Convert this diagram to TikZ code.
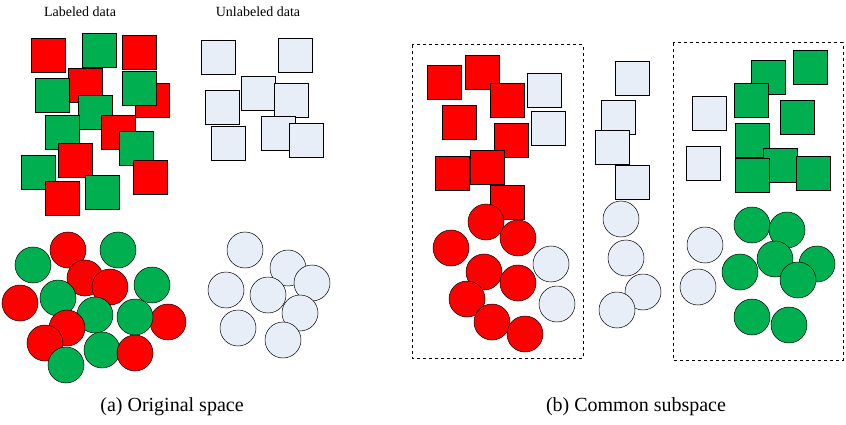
\documentclass[tikz,border=0pt]{standalone}
\usepackage{fontspec}
\setmainfont{Liberation Serif}
\definecolor{redbox}{HTML}{FF0000}
\definecolor{greenbox}{HTML}{00B050}
\definecolor{paleblue}{HTML}{E8EEF8}
\tikzset{
  sq/.style={draw=black, line width=0.5pt, minimum size=34pt, inner sep=0pt, fill=#1},
  ci/.style={circle, draw=black, line width=0.5pt, minimum size=36pt, inner sep=0pt, fill=#1},
  region/.style={draw, dashed, line width=1pt},
  caption/.style={font=\fontsize{20}{24}\selectfont},
  heading/.style={font=\fontsize{14}{16}\selectfont}
}
\begin{document}
\begin{tikzpicture}[x=1pt,y=-1pt]
\useasboundingbox (0,0) rectangle (846,425);
% original space
\node[heading] (lab) at (80,12) {Labeled data};
\node[heading] (unlab) at (258,12) {Unlabeled data};
\foreach \x/\y/\c [count=\i] in {48/55/redbox,99/50/greenbox,139/52/redbox,85/85/redbox,52/95/greenbox,152/100/redbox,139/88/greenbox,95/112/greenbox,118/132/redbox,62/132/greenbox,136/148/greenbox,75/160/redbox,38/172/greenbox,150/177/redbox,62/198/redbox,102/192/greenbox}
  \node[sq=\c] (ls\i) at (\x,\y) {};
\foreach \x/\y [count=\i] in {218/57,295/55,258/93,222/107,291/100,278/133,228/143,306/140}
  \node[sq=paleblue] (us\i) at (\x,\y) {};
\foreach \x/\y/\c [count=\i] in {68/250/redbox,118/250/greenbox,33/265/greenbox,85/278/redbox,110/287/redbox,152/285/greenbox,20/303/redbox,58/298/greenbox,168/322/redbox,95/315/greenbox,135/317/greenbox,67/328/redbox,45/343/redbox,102/350/greenbox,135/353/redbox,66/365/greenbox}
  \node[ci=\c] (lc\i) at (\x,\y) {};
\foreach \x/\y [count=\i] in {245/250,288/268,312/283,226/290,268/295,300/313,238/328,283/340}
  \node[ci=paleblue] (uc\i) at (\x,\y) {};
\node[caption] (capa) at (172,407) {(a) Original space};
% common subspace
\draw[region] (412,45) rectangle (583,358);
\draw[region] (673,43) rectangle (843,360);
\foreach \x/\y/\c [count=\i] in {444/82/redbox,482/72/redbox,507/100/redbox,544/90/paleblue,459/122/redbox,548/128/paleblue,511/140/redbox,452/173/redbox,487/167/redbox,507/202/redbox,632/78/paleblue,618/117/paleblue,612/147/paleblue,632/182/paleblue,810/67/greenbox,768/77/greenbox,709/113/paleblue,751/100/greenbox,797/117/greenbox,752/140/greenbox,703/163/paleblue,780/165/greenbox,752/175/greenbox,813/173/greenbox}
  \node[sq=\c] (cs\i) at (\x,\y) {};
\foreach \x/\y/\c [count=\i] in {451/248/redbox,486/222/redbox,518/238/redbox,484/272/redbox,551/264/paleblue,518/283/redbox,467/299/redbox,557/304/paleblue,492/322/redbox,525/334/redbox,621/219/paleblue,626/258/paleblue,643/292/paleblue,617/310/paleblue,752/225/greenbox,787/230/greenbox,705/245/paleblue,740/272/greenbox,775/259/greenbox,817/264/greenbox,798/280/greenbox,698/287/paleblue,752/317/greenbox,789/325/greenbox}
  \node[ci=\c] (cc\i) at (\x,\y) {};
\node[caption] (capb) at (636,407) {(b) Common subspace};
\end{tikzpicture}
\end{document}
